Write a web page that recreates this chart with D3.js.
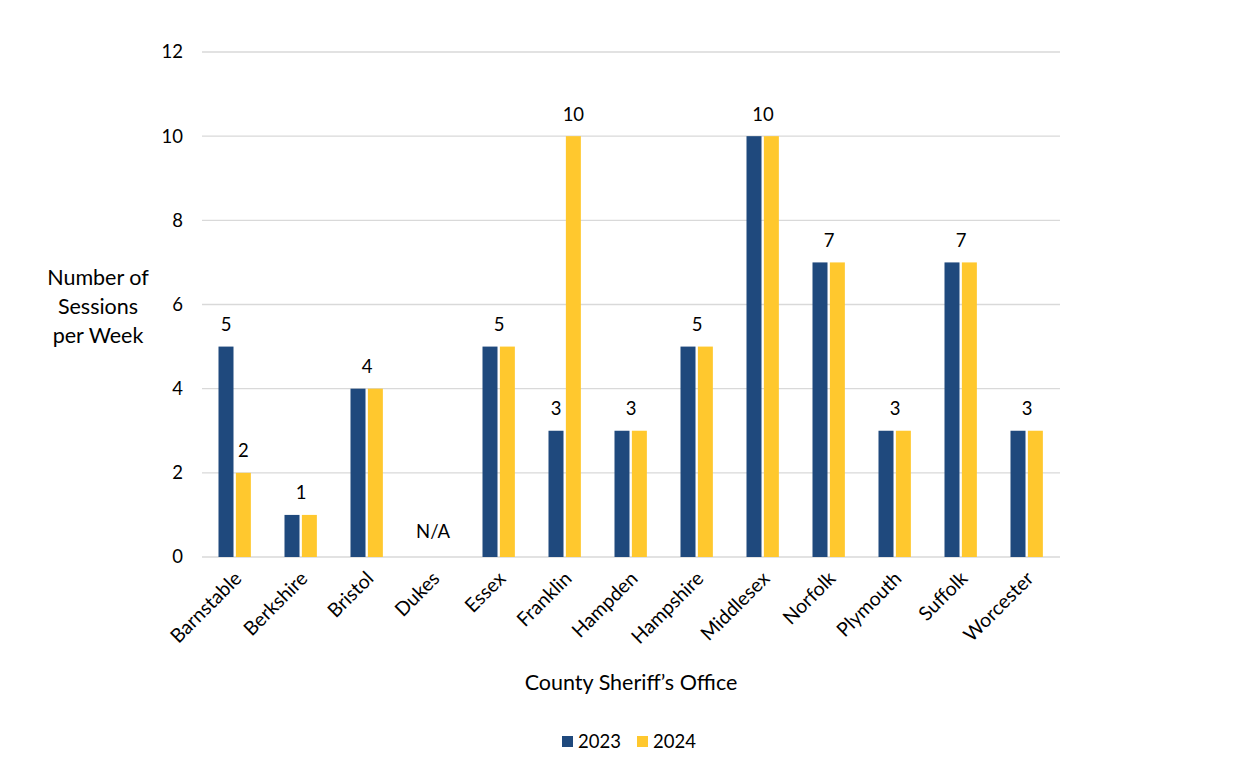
<!DOCTYPE html>
<html>
<head>
<meta charset="utf-8">
<script src="https://cdn.jsdelivr.net/npm/d3@7"></script>
<style>
  body { margin: 0; background: #fff; }
  svg text { font-family: Lato, "Open Sans", sans-serif; fill: #000; }
</style>
</head>
<body>
<div id="chart"></div>
<script>
// Data
const counties = ["Barnstable", "Berkshire", "Bristol", "Dukes", "Essex", "Franklin", "Hampden",
                  "Hampshire", "Middlesex", "Norfolk", "Plymouth", "Suffolk", "Worcester"];
const sessions2023 = [5, 1, 4, null, 5, 3, 3, 5, 10, 7, 3, 7, 3];
const sessions2024 = [2, 1, 4, null, 5, 10, 3, 5, 10, 7, 3, 7, 3];
const years = ["2023", "2024"];
const yTicks = [0, 2, 4, 6, 8, 10, 12];

const colors = { "2023": "#1F497D", "2024": "#FFC82E" };

const width = 1240, height = 776;
const margin = { left: 202, right: 180, top: 52, bottom: 219 };

const svg = d3.select("#chart").append("svg")
    .attr("width", width)
    .attr("height", height);

const x = d3.scaleBand()
    .domain(counties)
    .range([margin.left, width - margin.right]);

const y = d3.scaleLinear()
    .domain([0, 12])
    .range([height - margin.bottom, margin.top]);

const xInner = d3.scaleBand()
    .domain(years)
    .range([0, 33])
    .paddingInner(0.1);

// Gridlines
svg.append("g")
    .selectAll("line")
    .data(yTicks)
    .join("line")
    .attr("x1", margin.left)
    .attr("x2", width - margin.right)
    .attr("y1", d => y(d))
    .attr("y2", d => y(d))
    .attr("stroke", "#D9D9D9")
    .attr("stroke-width", 1.3);

// Y axis labels
svg.append("g")
    .selectAll("text")
    .data(yTicks)
    .join("text")
    .attr("x", 183)
    .attr("y", d => y(d))
    .attr("dy", "0.35em")
    .attr("text-anchor", "end")
    .style("font-size", "18.5px")
    .text(d => d);

// Bars
const rows = counties.map((c, i) => ({ county: c, values: { "2023": sessions2023[i], "2024": sessions2024[i] } }));
const bw = 15;

const groups = svg.append("g")
    .selectAll("g")
    .data(rows)
    .join("g")
    .attr("transform", d => `translate(${x(d.county) + x.bandwidth() / 2 - 16.5},0)`);

groups.selectAll("rect")
    .data(d => years.filter(yr => d.values[yr] != null).map(yr => ({ yr, v: d.values[yr] })))
    .join("rect")
    .attr("x", d => xInner(d.yr))
    .attr("width", bw)
    .attr("y", d => y(d.v))
    .attr("height", d => y(0) - y(d.v))
    .attr("fill", d => colors[d.yr]);

// Data labels: one centred label when both years match, otherwise one per bar
groups.each(function (d) {
    const gSel = d3.select(this);
    const a = d.values["2023"], b = d.values["2024"];
    let labels;
    if (a == null && b == null) {
        labels = [{ cx: 16.5, v: 0, t: "N/A", off: 25 }];
    } else if (a === b) {
        labels = [{ cx: 16.5, v: a, t: a, off: 22 }];
    } else {
        labels = [
            { cx: xInner("2023") + bw / 2, v: a, t: a, off: 22 },
            { cx: xInner("2024") + bw / 2, v: b, t: b, off: 22 }
        ];
    }
    gSel.selectAll("text")
        .data(labels)
        .join("text")
        .attr("x", l => l.cx)
        .attr("y", l => y(l.v) - l.off)
        .attr("dy", "0.35em")
        .attr("text-anchor", "middle")
        .style("font-size", "18.5px")
        .text(l => l.t);
});

// X axis category labels
svg.append("g")
    .selectAll("text")
    .data(counties)
    .join("text")
    .attr("transform", d => `translate(${x(d) + x.bandwidth() / 2 + 3},${y(0) + 18}) rotate(-45)`)
    .attr("text-anchor", "end")
    .attr("dy", "0.35em")
    .style("font-size", "19.5px")
    .text(d => d);

// Axis titles
svg.append("text")
    .attr("x", 631)
    .attr("y", 682)
    .attr("dy", "0.35em")
    .attr("text-anchor", "middle")
    .style("font-size", "21.5px")
    .text("County Sheriff\u2019s Office");

const yTitle = ["Number of", "Sessions", "per Week"];
svg.append("g")
    .selectAll("text")
    .data(yTitle)
    .join("text")
    .attr("x", 98)
    .attr("y", (d, i) => 277 + i * 29)
    .attr("dy", "0.35em")
    .attr("text-anchor", "middle")
    .style("font-size", "21.5px")
    .text(d => d);

// Legend
const legend = svg.append("g")
    .selectAll("g")
    .data(years)
    .join("g")
    .attr("transform", (d, i) => `translate(${562 + i * 75},742)`);

legend.append("rect")
    .attr("x", 0)
    .attr("y", -6)
    .attr("width", 11)
    .attr("height", 11)
    .attr("fill", d => colors[d]);

legend.append("text")
    .attr("x", 16)
    .attr("y", 0)
    .attr("dy", "0.35em")
    .style("font-size", "18.5px")
    .text(d => d);
</script>
</body>
</html>
